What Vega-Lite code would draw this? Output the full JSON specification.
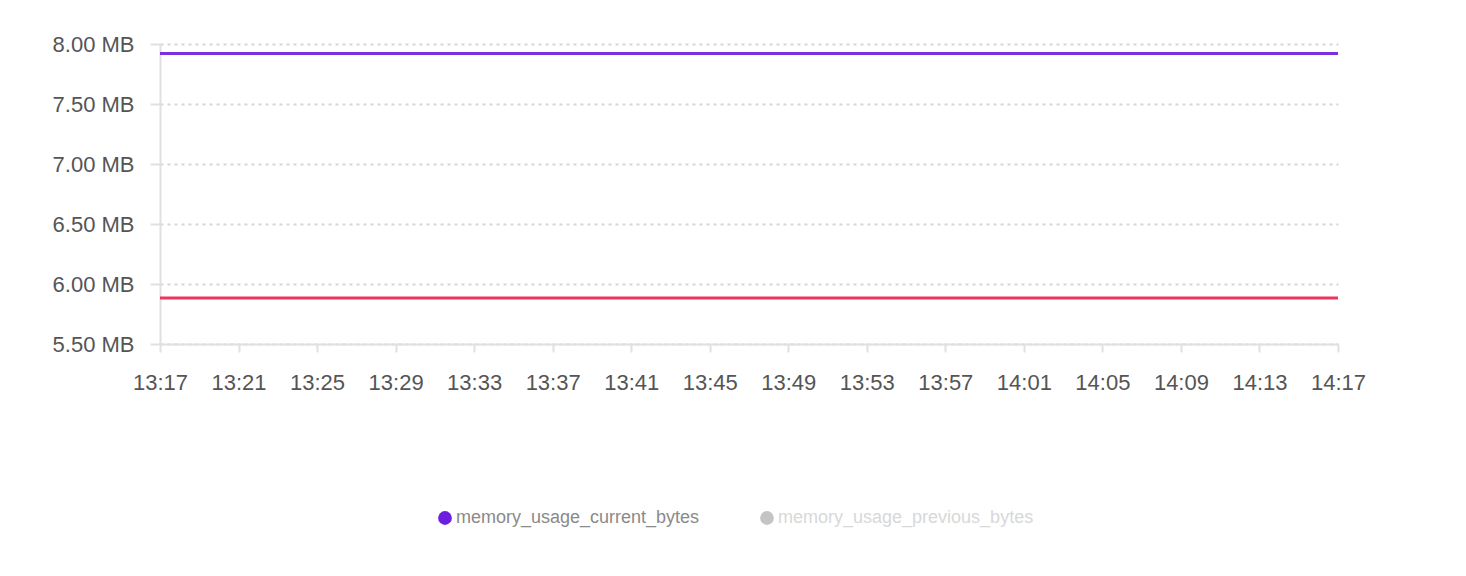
{
  "$schema": "https://vega.github.io/schema/vega-lite/v6.json",
  "width": 1178,
  "height": 300,
  "autosize": "none",
  "padding": {"left": 160, "top": 44, "right": 128, "bottom": 232},
  "background": "white",
  "config": {
    "view": {"stroke": null},
    "font": "Liberation Sans"
  },
  "data": {
    "values": [
      {"time": "2024-01-01T13:17:00", "series": "memory_usage_current_bytes", "mb": 7.921},
      {"time": "2024-01-01T13:21:00", "series": "memory_usage_current_bytes", "mb": 7.921},
      {"time": "2024-01-01T13:25:00", "series": "memory_usage_current_bytes", "mb": 7.921},
      {"time": "2024-01-01T13:29:00", "series": "memory_usage_current_bytes", "mb": 7.921},
      {"time": "2024-01-01T13:33:00", "series": "memory_usage_current_bytes", "mb": 7.921},
      {"time": "2024-01-01T13:37:00", "series": "memory_usage_current_bytes", "mb": 7.921},
      {"time": "2024-01-01T13:41:00", "series": "memory_usage_current_bytes", "mb": 7.921},
      {"time": "2024-01-01T13:45:00", "series": "memory_usage_current_bytes", "mb": 7.921},
      {"time": "2024-01-01T13:49:00", "series": "memory_usage_current_bytes", "mb": 7.921},
      {"time": "2024-01-01T13:53:00", "series": "memory_usage_current_bytes", "mb": 7.921},
      {"time": "2024-01-01T13:57:00", "series": "memory_usage_current_bytes", "mb": 7.921},
      {"time": "2024-01-01T14:01:00", "series": "memory_usage_current_bytes", "mb": 7.921},
      {"time": "2024-01-01T14:05:00", "series": "memory_usage_current_bytes", "mb": 7.921},
      {"time": "2024-01-01T14:09:00", "series": "memory_usage_current_bytes", "mb": 7.921},
      {"time": "2024-01-01T14:13:00", "series": "memory_usage_current_bytes", "mb": 7.921},
      {"time": "2024-01-01T14:17:00", "series": "memory_usage_current_bytes", "mb": 7.921},
      {"time": "2024-01-01T13:17:00", "series": "memory_usage_previous_bytes", "mb": 5.883},
      {"time": "2024-01-01T13:21:00", "series": "memory_usage_previous_bytes", "mb": 5.883},
      {"time": "2024-01-01T13:25:00", "series": "memory_usage_previous_bytes", "mb": 5.883},
      {"time": "2024-01-01T13:29:00", "series": "memory_usage_previous_bytes", "mb": 5.883},
      {"time": "2024-01-01T13:33:00", "series": "memory_usage_previous_bytes", "mb": 5.883},
      {"time": "2024-01-01T13:37:00", "series": "memory_usage_previous_bytes", "mb": 5.883},
      {"time": "2024-01-01T13:41:00", "series": "memory_usage_previous_bytes", "mb": 5.883},
      {"time": "2024-01-01T13:45:00", "series": "memory_usage_previous_bytes", "mb": 5.883},
      {"time": "2024-01-01T13:49:00", "series": "memory_usage_previous_bytes", "mb": 5.883},
      {"time": "2024-01-01T13:53:00", "series": "memory_usage_previous_bytes", "mb": 5.883},
      {"time": "2024-01-01T13:57:00", "series": "memory_usage_previous_bytes", "mb": 5.883},
      {"time": "2024-01-01T14:01:00", "series": "memory_usage_previous_bytes", "mb": 5.883},
      {"time": "2024-01-01T14:05:00", "series": "memory_usage_previous_bytes", "mb": 5.883},
      {"time": "2024-01-01T14:09:00", "series": "memory_usage_previous_bytes", "mb": 5.883},
      {"time": "2024-01-01T14:13:00", "series": "memory_usage_previous_bytes", "mb": 5.883},
      {"time": "2024-01-01T14:17:00", "series": "memory_usage_previous_bytes", "mb": 5.883}
    ]
  },
  "mark": {"type": "line", "strokeWidth": 3, "interpolate": "linear"},
  "encoding": {
    "x": {
      "field": "time",
      "type": "temporal",
      "scale": {
        "domain": [
          {"year": 2024, "month": 1, "date": 1, "hours": 13, "minutes": 17},
          {"year": 2024, "month": 1, "date": 1, "hours": 14, "minutes": 17}
        ]
      },
      "axis": {
        "title": null,
        "format": "%H:%M",
        "values": [
          {"year": 2024, "month": 1, "date": 1, "hours": 13, "minutes": 17},
          {"year": 2024, "month": 1, "date": 1, "hours": 13, "minutes": 21},
          {"year": 2024, "month": 1, "date": 1, "hours": 13, "minutes": 25},
          {"year": 2024, "month": 1, "date": 1, "hours": 13, "minutes": 29},
          {"year": 2024, "month": 1, "date": 1, "hours": 13, "minutes": 33},
          {"year": 2024, "month": 1, "date": 1, "hours": 13, "minutes": 37},
          {"year": 2024, "month": 1, "date": 1, "hours": 13, "minutes": 41},
          {"year": 2024, "month": 1, "date": 1, "hours": 13, "minutes": 45},
          {"year": 2024, "month": 1, "date": 1, "hours": 13, "minutes": 49},
          {"year": 2024, "month": 1, "date": 1, "hours": 13, "minutes": 53},
          {"year": 2024, "month": 1, "date": 1, "hours": 13, "minutes": 57},
          {"year": 2024, "month": 1, "date": 1, "hours": 14, "minutes": 1},
          {"year": 2024, "month": 1, "date": 1, "hours": 14, "minutes": 5},
          {"year": 2024, "month": 1, "date": 1, "hours": 14, "minutes": 9},
          {"year": 2024, "month": 1, "date": 1, "hours": 14, "minutes": 13},
          {"year": 2024, "month": 1, "date": 1, "hours": 14, "minutes": 17}
        ],
        "grid": false,
        "domainColor": "#e0e0e0",
        "domainWidth": 2,
        "tickColor": "#e0e0e0",
        "tickWidth": 2,
        "tickSize": 8,
        "labelFont": "Liberation Sans",
        "labelFontSize": 22,
        "labelColor": "#555555",
        "labelPadding": 20,
        "labelFlush": false,
        "labelOverlap": false
      }
    },
    "y": {
      "field": "mb",
      "type": "quantitative",
      "scale": {"domain": [5.5, 8.0], "nice": false, "zero": false},
      "axis": {
        "title": null,
        "values": [5.5, 6.0, 6.5, 7.0, 7.5, 8.0],
        "labelExpr": "format(datum.value, '.2f') + ' MB'",
        "grid": true,
        "gridColor": "#d6d6d6",
        "gridDash": [3, 4],
        "gridWidth": 2,
        "domainColor": "#e0e0e0",
        "domainWidth": 2,
        "tickColor": "#e0e0e0",
        "tickWidth": 2,
        "tickSize": 10,
        "labelFont": "Liberation Sans",
        "labelFontSize": 22,
        "labelColor": "#555555",
        "labelPadding": 16
      }
    },
    "color": {
      "field": "series",
      "type": "nominal",
      "scale": {
        "domain": ["memory_usage_current_bytes", "memory_usage_previous_bytes"],
        "range": ["#7b2fe3", "#ec3560"]
      },
      "legend": {
        "title": null,
        "orient": "none",
        "direction": "horizontal",
        "legendX": 276,
        "legendY": 465,
        "symbolType": "circle",
        "symbolSize": 190,
        "symbolStrokeWidth": 0,
        "labelFont": "Liberation Sans",
        "labelFontSize": 18,
        "labelLimit": 400,
        "labelOffset": 2,
        "columnPadding": 58,
        "encode": {
          "symbols": {
            "update": {
              "fill": {"signal": "datum.label === 'memory_usage_previous_bytes' ? '#c4c4c4' : '#6c1fdc'"},
              "stroke": {"value": "transparent"}
            }
          },
          "labels": {
            "update": {
              "fill": {"signal": "datum.label === 'memory_usage_previous_bytes' ? '#d8d8d8' : '#8a8a8a'"}
            }
          }
        }
      }
    }
  }
}
